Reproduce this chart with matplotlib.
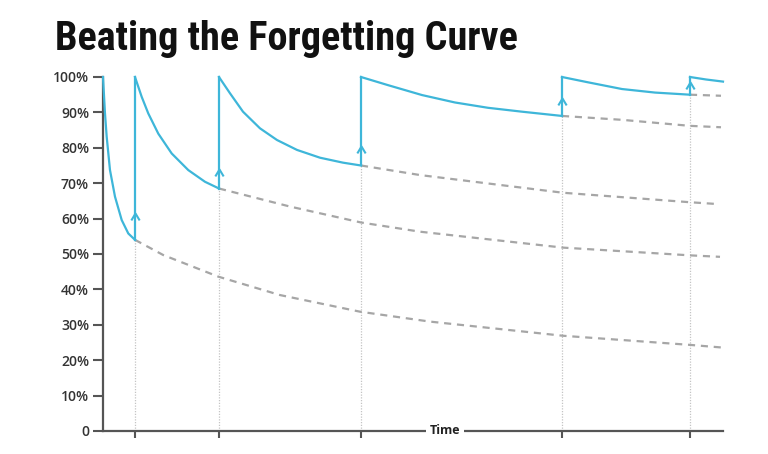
#!/usr/bin/env python3
# forgetting_curve.py

import numpy as np
import matplotlib
matplotlib.use("Agg")
import matplotlib.pyplot as plt
from matplotlib.path import Path
from matplotlib.transforms import blended_transform_factory

# retention (%), time in arbitrary units (0..62)
review_t = [3.2, 11.6, 25.8, 45.9, 58.7]
review_dip = [54, 68.5, 75, 89, 95]
arrow_tip = [61.5, 74, 80.5, 94, 98.6]

# solid blue decay segments
seg_t = [
    [0, 0.2, 0.37, 0.7, 1.2, 1.87, 2.53, 3.2],
    [3.2, 3.87, 4.53, 5.53, 6.87, 8.53, 10.2, 11.6],
    [11.6, 12.7, 14.0, 15.7, 17.4, 19.4, 21.7, 24.0, 25.8],
    [25.8, 28.5, 31.9, 35.2, 38.5, 41.9, 45.9],
    [45.9, 48.5, 51.9, 55.2, 58.7],
    [58.7, 60.3, 62.0],
]
seg_r = [
    [100, 89.7, 83.1, 73.7, 66.2, 59.6, 55.8, 54],
    [100, 94.4, 89.7, 84, 78.4, 73.7, 70.4, 68.5],
    [100, 95.4, 90.2, 85.5, 82.2, 79.4, 77.2, 75.8, 75],
    [100, 97.7, 94.9, 92.8, 91.3, 90.2, 89],
    [100, 98.5, 96.6, 95.6, 95],
    [100, 99.3, 98.7],
]

# dashed grey "no review" continuations
dash_t = [
    [3.2, 6.03, 11.53, 17.7, 25.7, 32.7, 46.0, 58.8, 61.8],
    [11.6, 18.7, 25.8, 31.7, 46.0, 58.8, 61.7],
    [25.8, 31.7, 46.0, 58.8, 61.5],
    [45.9, 51.9, 58.7, 61.8],
    [58.7, 61.8],
]
dash_r = [
    [54, 49.7, 43.6, 38.4, 33.7, 30.9, 26.9, 24.3, 23.6],
    [68.5, 63.4, 58.9, 56.3, 51.8, 49.6, 49.2],
    [75, 72.3, 67.3, 64.6, 64.1],
    [89, 87.9, 86.2, 85.8],
    [95, 94.7],
]

y_ticks = [0, 10, 20, 30, 40, 50, 60, 70, 80, 90, 100]
y_labels = ["0"] + [f"{v}%" for v in y_ticks[1:]]

BLUE = "#3eb6d9"
GREY = "#a6a6a6"
AXIS = "#555555"


def plot(ax):
    for ts, rs in zip(dash_t, dash_r):
        ax.plot(ts, rs, color=GREY, lw=1.6, ls=(0, (3.2, 2.6)), zorder=2)

    for t, dip in zip(review_t, review_dip):
        ax.plot([t, t], [0, dip], color="#c4c4c4", lw=0.9, ls=(0, (1, 1.2)), zorder=1)

    for ts, rs in zip(seg_t, seg_r):
        ax.plot(ts, rs, color=BLUE, lw=1.6, zorder=3, clip_on=False,
                solid_joinstyle="round")

    for t, dip in zip(review_t, review_dip):
        ax.plot([t, t], [dip, 100], color=BLUE, lw=1.6, zorder=3, clip_on=False)

    chevron = Path([(-0.6, -1), (0, 0), (0.6, -1)],
                   [Path.MOVETO, Path.LINETO, Path.LINETO])
    ax.plot(review_t, arrow_tip, ls="none", marker=chevron, ms=10,
            mfc="none", mec=BLUE, mew=1.5, zorder=4)

    ax.set_xlim(0, 62)
    ax.set_ylim(0, 100)
    ax.set_yticks(y_ticks)
    ax.set_yticklabels(y_labels, family=["Open Sans", "DejaVu Sans"],
                       fontsize=10, fontweight="semibold", color="#333333")
    ax.set_xticks(review_t)
    ax.set_xticklabels([])
    ax.tick_params(axis="y", length=7, width=1.5, color=AXIS, pad=3)
    ax.tick_params(axis="x", length=5, width=1.5, color=AXIS, direction="out")

    for side in ("top", "right"):
        ax.spines[side].set_visible(False)
    for side in ("left", "bottom"):
        ax.spines[side].set_color(AXIS)
        ax.spines[side].set_linewidth(1.6)

    trans = blended_transform_factory(ax.transAxes, ax.transData)
    ax.text(0.552, 0, "Time", transform=trans, ha="center", va="center",
            fontsize=9, fontweight="bold", color="#222222",
            family=["Open Sans", "DejaVu Sans"],
            bbox=dict(facecolor="white", edgecolor="none", pad=2.5), zorder=5)


def main():
    fig = plt.figure(figsize=(7.68, 4.54), dpi=100)
    ax = fig.add_axes([0.1341, 0.0507, 0.8073, 0.7797])

    plot(ax)

    fig.text(0.072, 0.89, "Beating the Forgetting Curve",
             family=["Roboto Condensed", "DejaVu Sans"],
             fontweight="bold", fontsize=29,
             color="#111111", ha="left", va="baseline")

    fig.savefig("out.png", dpi=100)


if __name__ == "__main__":
    main()
